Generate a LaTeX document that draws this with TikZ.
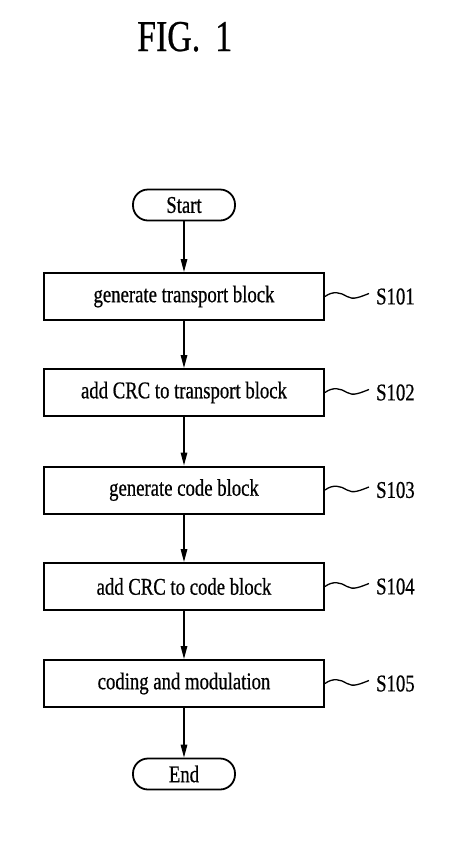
\documentclass[tikz,border=0pt]{standalone}
\usepackage{fontspec}
\setmainfont{Liberation Serif}[FakeStretch=0.78,FakeBold=0.6]
\newfontfamily\titlefont{Liberation Serif}[FakeStretch=0.77,FakeBold=0.6]
\usetikzlibrary{arrows.meta,calc}
\begin{document}
\begin{tikzpicture}[x=1pt,y=-1pt,
  stepbox/.style={draw,line width=2pt,minimum width=280pt,minimum height=47pt,inner sep=0pt,font=\fontsize{24}{26}\selectfont},
  term/.style={draw,line width=1.8pt,rounded corners=15pt,minimum width=102pt,minimum height=31pt,inner sep=0pt,font=\fontsize{24}{26}\selectfont},
  flow/.style={line width=1.5pt,-{Triangle[length=13pt,width=6.5pt]}},
  steplabel/.style={anchor=west,inner sep=0pt,font=\fontsize{24}{26}\selectfont},
  wave/.style={line width=1.3pt}]
\useasboundingbox (0,0) rectangle (474,847);
\node[anchor=base west,inner sep=0pt,font=\titlefont\fontsize{44}{48}\selectfont] (title) at (137,51) {FIG.\hspace{15pt}1};
\node[term] (start) at (184,205) {Start};
\node[stepbox] (b1) at (184,296.5) {generate transport block};
\node[stepbox] (b2) at (184,392.5) {add CRC to transport block};
\node[stepbox] (b3) at (184,490) {generate code block};
\node[stepbox] (b4) at (184,586.5) {add CRC to code block};
\node[stepbox] (b5) at (184,683.5) {coding and modulation};
\node[term] (end) at (184,774) {End};
\draw[flow] (start) -- (b1);
\draw[flow] (b1) -- (b2);
\draw[flow] (b2) -- (b3);
\draw[flow] (b3) -- (b4);
\draw[flow] (b4) -- (b5);
\draw[flow] (b5) -- (end);
\foreach \i in {1,...,5}{
  \node[steplabel] (l\i) at ($(b\i.east)+(51,0)$) {S10\i};
  \draw[wave] (b\i.east) .. controls +(8,-6) and +(-6,-4) .. ($(b\i.east)+(22,0)$)
     .. controls +(6,4) and +(-8,3) .. ($(l\i.west)+(-7,-3)$);
}
\end{tikzpicture}
\end{document}
